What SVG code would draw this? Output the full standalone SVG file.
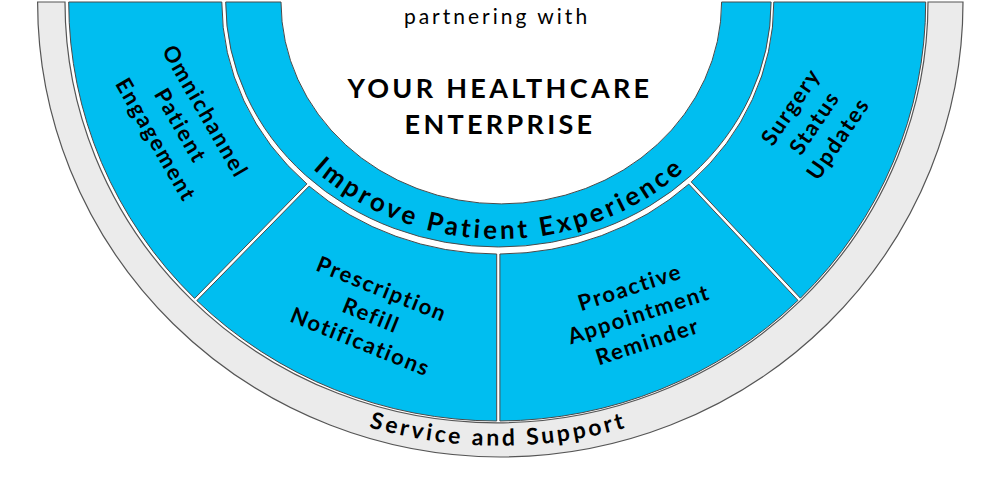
<svg xmlns="http://www.w3.org/2000/svg" xmlns:xlink="http://www.w3.org/1999/xlink" width="1000" height="500" viewBox="0 0 1000 500">
  <defs>
    <style>
      .ring { fill: #EBEBEB; stroke: #555555; stroke-width: 1.2; }
      .seg { fill: #00BEF0; stroke: #4a4a4a; stroke-width: 1; }
      .lbl { font-family: Lato, "Liberation Sans", sans-serif; font-weight: 700; fill: #000000; }
      .seglbl { font-size: 22px; letter-spacing: 1.7px; text-anchor: middle; }
      .center { text-anchor: middle; }
    </style>
    <path id="arcImprove" d="M 236.7,2 A 262.8 237 0 0 0 762.3,2"/>
    <path id="arcService" d="M 46,2 A 452.4 443.7 0 0 0 950.8,2"/>
  </defs>
  <rect width="1000" height="500" fill="#FFFFFF"/>

  <g id="service-support">
    <path class="ring" d="M 37.6,2 A 462.7 455 0 0 0 963,2 L 928,2 A 431.5 421 0 0 1 65,2 Z"/>
    <text class="lbl center" font-size="23" letter-spacing="3"><textPath xlink:href="#arcService" href="#arcService" startOffset="50%">Service and Support</textPath></text>
  </g>

  <g id="omnichannel">
    <path class="seg" d="M 68.7,2 A 428.5 419 0 0 0 194.6,298.4 L 306.9,183.9 A 276 252 0 0 1 221.8,2 Z"/>
    <text class="lbl seglbl" transform="translate(180,126) rotate(60)"><tspan x="0" y="-21.5">Omnichannel</tspan><tspan x="0" y="7">Patient</tspan><tspan x="0" y="35.5">Engagement</tspan></text>
  </g>

  <g id="prescription">
    <path class="seg" d="M 196.8,300.6 A 428.5 419 0 0 0 496.7,421 L 496.7,254 A 276 252 0 0 1 309.1,186.1 Z"/>
    <text class="lbl seglbl" transform="translate(371,316) rotate(22)"><tspan x="0" y="-21.5">Prescription</tspan><tspan x="0" y="7">Refill</tspan><tspan x="0" y="35.5">Notifications</tspan></text>
  </g>

  <g id="proactive">
    <path class="seg" d="M 499.9,421 A 428.5 419 0 0 0 798,300.4 L 688.8,184.1 A 276 252 0 0 1 499.9,254 Z"/>
    <text class="lbl seglbl" transform="translate(639,315) rotate(-18)"><tspan x="0" y="-21.5">Proactive</tspan><tspan x="0" y="7">Appointment</tspan><tspan x="0" y="35.5">Reminder</tspan></text>
  </g>

  <g id="surgery">
    <path class="seg" d="M 800.4,298.2 A 428.5 419 0 0 0 925.7,2 L 773.8,2 A 276 252 0 0 1 691.2,181.9 Z"/>
    <text class="lbl seglbl" transform="translate(815,123) rotate(-56)"><tspan x="0" y="-21.5">Surgery</tspan><tspan x="0" y="7">Status</tspan><tspan x="0" y="35.5">Updates</tspan></text>
  </g>

  <g id="improve-patient-experience">
    <path class="seg" d="M 225.7,2 A 272.7 245 0 0 0 771.1,2 L 721.6,2 A 220.3 202 0 0 1 281,2 Z"/>
    <text class="lbl center" font-size="26" letter-spacing="3.4"><textPath xlink:href="#arcImprove" href="#arcImprove" startOffset="50%">Improve Patient Experience</textPath></text>
  </g>

  <g id="enterprise">
    <text class="lbl center" x="497" y="24" font-size="21" style="font-weight:400" letter-spacing="3">partnering with</text>
    <text class="lbl center" x="500" y="98" font-size="27" letter-spacing="3.3">YOUR HEALTHCARE</text>
    <text class="lbl center" x="500" y="134" font-size="27" letter-spacing="3.3">ENTERPRISE</text>
  </g>

  <g id="connectors"/>
</svg>
